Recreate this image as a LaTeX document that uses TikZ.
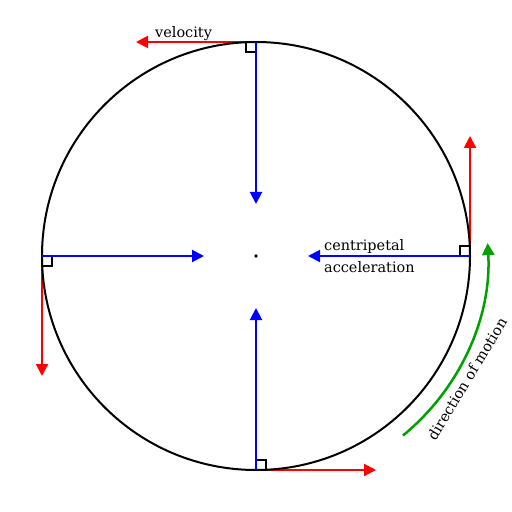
\documentclass[tikz,border=0pt]{standalone}
\usepackage{fontspec}
\setmainfont{DejaVu Serif}
\usetikzlibrary{arrows.meta}
\definecolor{vred}{RGB}{255,0,0}
\definecolor{ablue}{RGB}{0,0,255}
\definecolor{mgreen}{RGB}{0,160,0}
\begin{document}
\begin{tikzpicture}[x=1bp,y=-1bp,
  tip/.style={-{Triangle[length=12bp,width=12bp]}},
  velarrow/.style={tip,draw=vred,line width=2bp},
  accarrow/.style={tip,draw=ablue,line width=2bp},
  rightmark/.style={draw=black,line width=1.4bp},
  lbl/.style={inner sep=0pt,anchor=base west,font=\fontsize{14.5}{22}\selectfont}]
\useasboundingbox (0,0) rectangle (512,512);
\coordinate (C) at (256,256);
\coordinate (T) at (256,42);
\coordinate (B) at (256,470);
\coordinate (L) at (42,256);
\coordinate (R) at (470,256);
% velocity ends
\coordinate (Tv) at (136,42);
\coordinate (Rv) at (470,136);
\coordinate (Bv) at (376,470);
\coordinate (Lv) at (42,376);
% acceleration ends
\coordinate (Ta) at (256,204);
\coordinate (Ba) at (256,308);
\coordinate (La) at (204,256);
\coordinate (Ra) at (308,256);
% right-angle markers
\draw[rightmark] (246,42) -- (246,52) -- (256,52);
\draw[rightmark] (42,266) -- (52,266) -- (52,256);
\draw[rightmark] (460,256) -- (460,246) -- (470,246);
\draw[rightmark] (256,460) -- (266,460) -- (266,470);
% velocity arrows
\draw[velarrow] (T) -- (Tv);
\draw[velarrow] (R) -- (Rv);
\draw[velarrow] (B) -- (Bv);
\draw[velarrow] (L) -- (Lv);
% circle
\draw[line width=2bp] (C) circle[radius=214];
% acceleration arrows
\draw[accarrow] (T) -- (Ta);
\draw[accarrow] (B) -- (Ba);
\draw[accarrow] (L) -- (La);
\draw[accarrow] (R) -- (Ra);
% centre dot
\fill (C) circle[radius=1.8];
% direction of motion
\draw[tip,draw=mgreen,line width=2.5bp] (C) ++(50.7:232) arc[start angle=50.7,end angle=-3.2,radius=232] coordinate (G);
\node[inner sep=0pt,rotate=59,font=\fontsize{14.5}{17}\selectfont] (dir) at (467,379) {direction of motion};
% labels
\node[lbl] (vel) at (155,38) {velocity};
\node[lbl,align=left] (acc) at (324,272.5) {centripetal\\acceleration};
\end{tikzpicture}
\end{document}
